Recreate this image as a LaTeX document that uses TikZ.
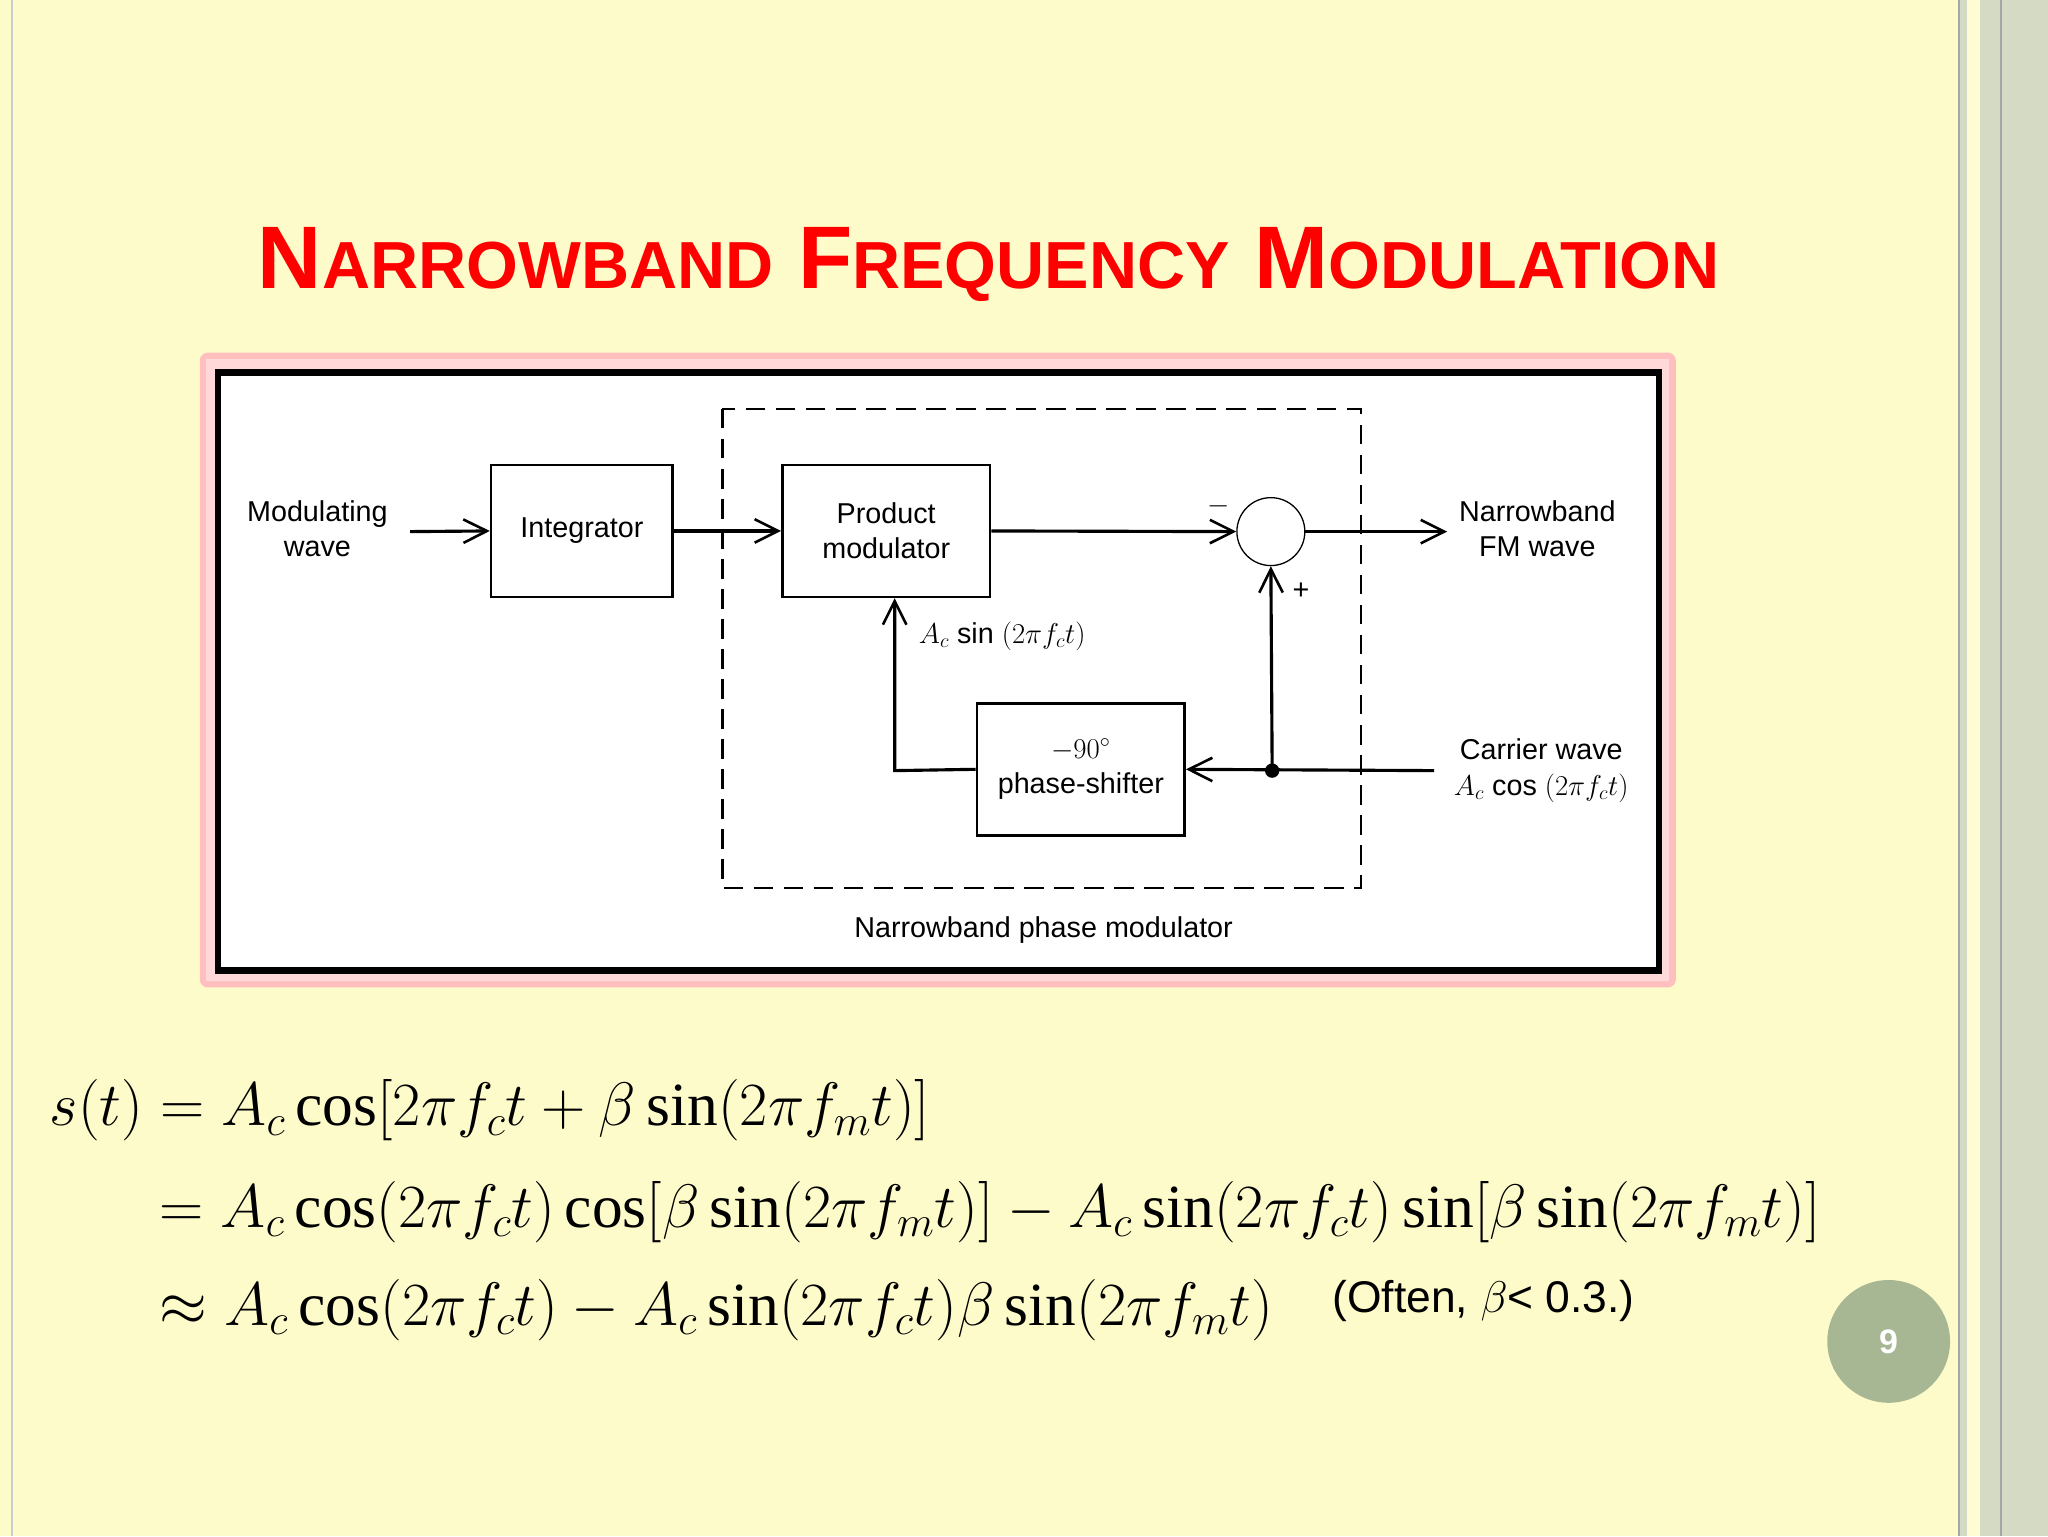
\documentclass[tikz,border=0pt]{standalone}
\usepackage{fix-cm}
\usepackage{fontspec}
\setmainfont{Liberation Serif}
\setsansfont{Liberation Sans}
\usetikzlibrary{arrows.meta}
\definecolor{bgy}{HTML}{FEFBCB}
\definecolor{sideg}{HTML}{D4DAC4}
\definecolor{ttl}{HTML}{FF0000}
\definecolor{pn}{HTML}{A8B793}
\begin{document}
\begin{tikzpicture}[x=1pt,y=-1pt,
  blk/.style={draw,line width=2pt,minimum width=#1,minimum height=101,inner sep=0pt,align=center,font=\sffamily\fontsize{22}{27}\selectfont},
  lbl/.style={align=center,font=\sffamily\fontsize{22}{27}\selectfont},
  sig/.style={line width=2.4pt,-{Straight Barb[length=18pt,width=18pt,line width=2pt]}},
  eq/.style={anchor=base west,inner sep=0pt,font=\fontsize{47}{54}\selectfont}]
\useasboundingbox (0,0) rectangle (1568,1176);
\fill[bgy] (0,0) rectangle (1568,1176);
\fill[sideg] (1500,0) rectangle (1568,1176);
\fill[bgy!80!white] (1506,0) rectangle (1516,1176);
\draw[gray!70,line width=1.5pt] (1500,0) -- (1500,1176) (1532,0)--(1532,1176);
\draw[gray!40,line width=1.5pt] (9,0) -- (9,1176);
% title
\node[font=\sffamily\bfseries\fontsize{68}{76}\selectfont,text=ttl,anchor=base] (title) at (757,221)
 {N{\fontsize{51}{56}\selectfont ARROWBAND} F{\fontsize{51}{56}\selectfont REQUENCY} M{\fontsize{51}{56}\selectfont ODULATION}};
% frame
\fill[red!25,rounded corners=6] (153,270) rectangle (1283,756);
\fill[red!15] (158,275) rectangle (1278,751);
\draw[line width=5pt,fill=white] (167,285) rectangle (1270,743);
\draw[line width=2pt,dash pattern=on 15pt off 8pt] (553,313) rectangle (1042,680);
% blocks
\node[blk=139] (int) at (445.5,406.5) {Integrator};
\node[blk=159] (pm) at (678.5,406.5) {Product\\modulator};
\node[blk=159] (ps) at (827.5,589) {$-90^\circ$\\phase-shifter};
\node[draw,circle,line width=1pt,minimum size=52,inner sep=0pt] (sum) at (973,407) {};
\node[lbl] (mw) at (243,405) {Modulating\\wave};
\node[lbl] (fm) at (1177,405) {Narrowband\\FM wave};
\node[lbl] (cw) at (1180,590) {Carrier wave\\$A_c$ cos $(2\pi f_c t)$};
\node[lbl] (npm) at (799,712) {Narrowband phase modulator};
\node[lbl,anchor=west] (sl) at (700,487) {$A_c$ sin $(2\pi f_c t)$};
\node[lbl] (mi) at (933,388) {$-$};
\node[lbl] (pl) at (996,453) {+};
\coordinate (mwe) at (314,407);
\coordinate (fme) at (1108,407);
\coordinate (cwe) at (1098,590);
\coordinate (dot) at (974,590);
\coordinate (lc) at (685,590);
\draw[sig] (mwe) -- (int.west);
\draw[sig] (int.east) -- (pm.west);
\draw[sig] (pm.east) -- (sum.west);
\draw[sig] (sum.east) -- (fme);
\draw[sig] (cwe) -- (ps.east);
\draw[sig] (dot) -- (sum.south);
\draw[sig] (ps.west) -- (lc) -- (lc |- pm.south);
\fill (dot) circle (5.5);
% equations
\node[eq] (e1) at (38,862) {$s(t)=A_c\cos\bigl[2\pi f_c t+\beta\sin(2\pi f_m t)\bigr]$};
\node[eq] (e2) at (122,940) {$=A_c\cos(2\pi f_c t)\cos[\beta\sin(2\pi f_m t)]-A_c\sin(2\pi f_c t)\sin[\beta\sin(2\pi f_m t)]$};
\node[eq] (e3) at (122,1015) {$\approx A_c\cos(2\pi f_c t)-A_c\sin(2\pi f_c t)\beta\sin(2\pi f_m t)$};
\node[anchor=base west,inner sep=0pt,font=\sffamily\fontsize{34}{40}\selectfont] (often) at (1020,1005) {(Often, $\beta$< 0.3.)};
\node[circle,fill=pn,minimum size=94,inner sep=0pt,text=white,font=\sffamily\bfseries\fontsize{26}{30}\selectfont] (pg) at (1446,1027) {9};
\end{tikzpicture}
\end{document}
